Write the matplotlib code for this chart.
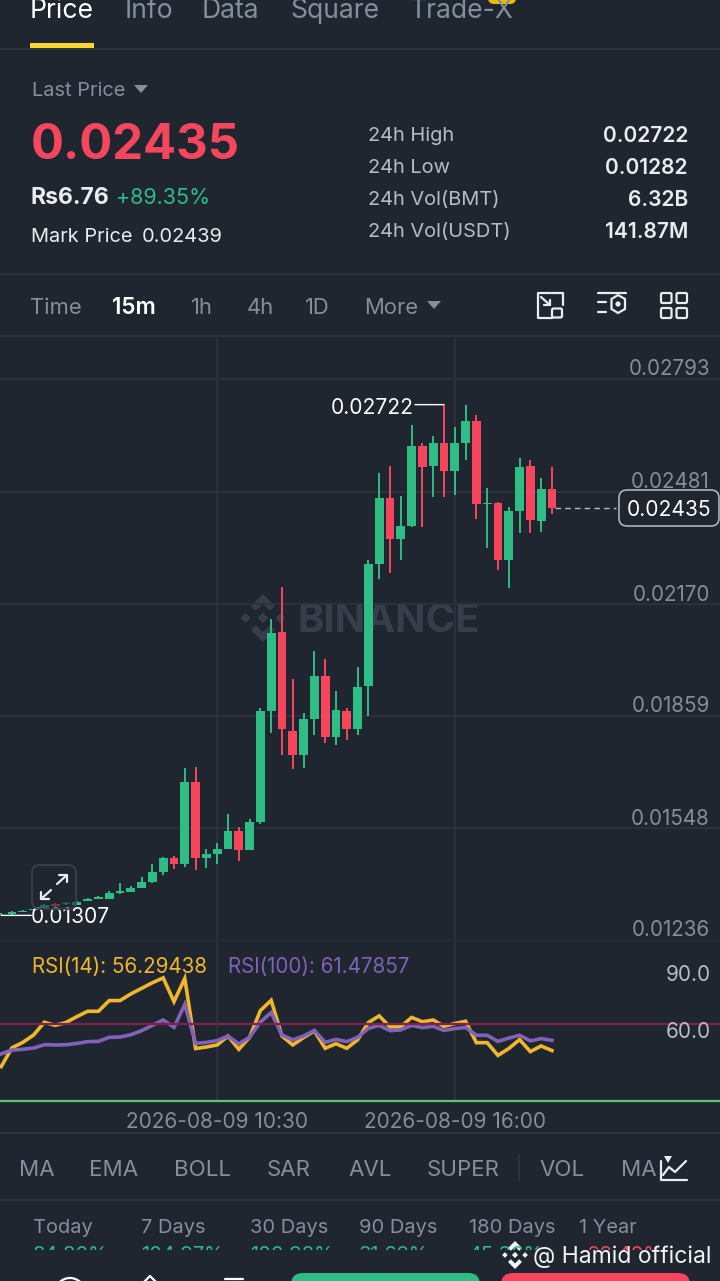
import matplotlib
matplotlib.use("Agg")
import matplotlib.pyplot as plt
from matplotlib.patches import FancyBboxPatch, Polygon, Rectangle, Circle
from matplotlib.lines import Line2D

W, H = 720, 1281
plt.rcParams['font.family'] = ['Inter', 'DejaVu Sans']

# ---- data ----
opens = [0.01310,0.01310,0.01317,0.01321,0.01328,0.01339,0.01338,0.01336,0.01347,0.01353,
         0.01353,0.01369,0.01372,0.01383,0.01400,0.01427,0.01466,0.01450,0.01677,0.01466,
         0.01477,0.01491,0.01541,0.01488,0.01566,0.01873,0.02092,0.01818,0.01751,0.01851,
         0.01970,0.01801,0.01873,0.01823,0.01943,0.02281,0.02463,0.02350,0.02386,0.02607,
         0.02552,0.02616,0.02538,0.02616,0.02677,0.02447,0.02450,0.02292,0.02427,0.02552,
         0.02400,0.02488]
highs = [0.01313,0.01318,0.01321,0.01326,0.01339,0.01342,0.01343,0.01346,0.01355,0.01360,
         0.01375,0.01397,0.01389,0.01414,0.01450,0.01468,0.01472,0.01715,0.01718,0.01491,
         0.01508,0.01588,0.01552,0.01574,0.01882,0.02128,0.02217,0.01962,0.01868,0.02040,
         0.02017,0.01929,0.01882,0.01995,0.02292,0.02533,0.02552,0.02469,0.02666,0.02616,
         0.02635,0.02722,0.02660,0.02720,0.02693,0.02491,0.02453,0.02438,0.02574,0.02569,
         0.02519,0.02549]
lows = [0.01307,0.01309,0.01316,0.01320,0.01327,0.01331,0.01336,0.01335,0.01346,0.01351,
        0.01351,0.01367,0.01371,0.01382,0.01397,0.01419,0.01436,0.01441,0.01433,0.01438,
        0.01450,0.01490,0.01458,0.01487,0.01560,0.01812,0.01751,0.01713,0.01715,0.01807,
        0.01785,0.01779,0.01793,0.01807,0.01860,0.02239,0.02256,0.02292,0.02383,0.02383,
        0.02466,0.02466,0.02472,0.02569,0.02405,0.02325,0.02264,0.02214,0.02366,0.02366,
        0.02369,0.02419]
closes = [0.01312,0.01317,0.01319,0.01325,0.01337,0.01333,0.01341,0.01344,0.01353,0.01357,
          0.01369,0.01375,0.01383,0.01400,0.01427,0.01466,0.01450,0.01677,0.01466,0.01477,
          0.01491,0.01541,0.01488,0.01566,0.01873,0.02089,0.01823,0.01751,0.01851,0.01970,
          0.01801,0.01876,0.01823,0.01940,0.02281,0.02463,0.02350,0.02386,0.02607,0.02549,
          0.02616,0.02538,0.02616,0.02677,0.02447,0.02449,0.02292,0.02427,0.02549,0.02402,
          0.02488,0.02435]
rsi14 = [43.4,50.8,52.9,55.8,60.8,59.6,60.7,63.0,65.1,65.1,69.3,69.3,71.9,74.1,76.3,78.2,
         68.9,78.0,50.5,51.1,51.9,55.4,50.2,54.9,65.4,69.4,55.4,51.9,54.8,57.4,50.6,52.4,
         50.6,53.9,60.7,63.3,59.0,59.0,62.7,61.0,61.7,59.2,60.3,61.2,52.8,52.8,47.8,50.5,
         54.0,49.3,51.5,49.7]
rsi100 = [48.4,49.9,50.2,50.7,52.0,51.9,52.0,52.5,53.2,53.3,54.9,55.0,55.9,57.5,59.6,61.7,
          58.8,67.8,52.5,52.9,53.6,55.4,52.3,54.9,60.9,64.6,55.8,53.9,55.4,57.6,52.9,54.1,
          53.2,54.9,58.4,59.6,57.5,57.8,59.6,58.7,59.2,57.6,58.3,58.8,55.7,55.7,53.3,54.6,
          55.7,53.5,54.4,53.7]
price_ticks = [0.02793,0.02481,0.02170,0.01859,0.01548,0.01236]
price_tick_labels = ['0.02793','0.02481','0.02170','0.01859','0.01548','0.01236']
time_tick_pos = [20, 42]
time_labels = ['2026-08-09 10:30','2026-08-09 16:00']
rsi_levels = [60, 30]
last_price = 0.02435
tabs = ['Price','Info','Data','Square','Trade-X']
stats = [('24h High','0.02722'),('24h Low','0.01282'),('24h Vol(BMT)','6.32B'),('24h Vol(USDT)','141.87M')]
intervals = ['Time','15m','1h','4h','1D','More']
indicators = ['MA','EMA','BOLL','SAR','AVL','SUPER','VOL','MA']
periods = ['Today','7 Days','30 Days','90 Days','180 Days','1 Year']
period_values = ['84.80%','104.97%','100.98%','31.62%','45.36%','-68.40%']

# ---- colours ----
BG='#1F2630'; GRID='#2C323E'; SEP='#2F3541'; GREEN='#2EBD85'; RED='#F6465D'
GREY='#848E9C'; LIGHT='#EAECEF'; MID='#B7BDC6'; YEL='#F0B62C'; PUR='#8262B8'

fig = plt.figure(figsize=(W/100, H/100), dpi=100, facecolor=BG)

def px_axes(top, bottom, z):
    return fig.add_axes([0, 1-bottom/H, 1, (bottom-top)/H], zorder=z)

def ui_axes(z):
    a = px_axes(0, H, z); a.set_xlim(0, W); a.set_ylim(H, 0); a.axis('off')
    a.patch.set_alpha(0)
    return a

bg = ui_axes(0); ui = ui_axes(5)

def fs(px): return px*0.72
def T(x, y, s, size=20, c=GREY, ha='left', w='normal', a=None, **k):
    return (a or ui).text(x, y+2, s, fontsize=fs(size), color=c, ha=ha, va='center', fontweight=w, **k)

# ---- price panel ----
XL = (-0.11, 66.56)
ax = px_axes(338, 941, 2)
ax.set_facecolor('none')
ax.set_xlim(*XL); ax.set_ylim(0.01236, 0.029066)
for s in ax.spines.values(): s.set_visible(False)
ax.set_yticks(price_ticks); ax.set_xticks(time_tick_pos)
ax.tick_params(left=False, bottom=False, labelleft=False, labelbottom=False)
ax.grid(True, color=GRID, lw=1.3); ax.set_axisbelow(True)
idx = list(range(len(opens)))
cols = [GREEN if c >= o else RED for o, c in zip(opens, closes)]
ax.vlines(idx, lows, highs, colors=cols, lw=1.4, zorder=3)
ax.bar(idx, [max(abs(c-o), 0.000012) for o, c in zip(opens, closes)],
       bottom=[min(o, c) for o, c in zip(opens, closes)], width=0.82, color=cols, zorder=4)
offs = [10, 10, 9, 10, 9, 11]
for v, l, o in zip(price_ticks, price_tick_labels, offs):
    ax.annotate(l, (1, v), xycoords=('axes fraction', 'data'), xytext=(-10, o), textcoords='offset pixels',
                ha='right', va='center', color=GREY, fontsize=fs(20.6))
# high / low / last markers
hi_i = highs.index(max(highs)); lo_i = lows.index(min(lows))
hi_v, lo_v = max(highs), min(lows)
ax.annotate(f'{hi_v:.5f}', (hi_i, hi_v), xytext=(-30, -3), textcoords='offset pixels',
            color='white', fontsize=fs(21), ha='right', va='center', zorder=6)
ax.annotate('', (hi_i, hi_v), xytext=(-29, 0), textcoords='offset pixels',
            arrowprops=dict(arrowstyle='-', color='white', lw=1, shrinkA=0, shrinkB=0))
ax.annotate(f'{lo_v:.5f}', (lo_i, lo_v), xytext=(30, -2), textcoords='offset pixels',
            color='white', fontsize=fs(21), ha='left', va='center', zorder=6)
ax.annotate('', (lo_i, lo_v), xytext=(30, 0), textcoords='offset pixels',
            arrowprops=dict(arrowstyle='-', color='white', lw=1, shrinkA=0, shrinkB=0))
ax.plot([idx[-1]+0.3, 56.9], [last_price]*2, color=MID, lw=1, ls=(0, (4, 3)), zorder=3)

# ---- RSI panel ----
rx = px_axes(941, 1102, 2)
rx.set_facecolor('none')
rx.set_xlim(*XL); rx.set_ylim(29.53, 92.67)
for s in rx.spines.values(): s.set_visible(False)
rx.set_yticks([]); rx.set_xticks(time_tick_pos, time_labels)
rx.tick_params(axis='x', length=0, pad=7, labelsize=fs(20.8), labelcolor=GREY)
rx.grid(True, axis='x', color=GRID, lw=1.3); rx.set_axisbelow(True)
rx.plot(idx, rsi14, color=YEL, lw=2.6, solid_joinstyle='miter', zorder=3)
rx.plot(idx, rsi100, color=PUR, lw=2.6, solid_joinstyle='miter', zorder=4)
rx.axhline(rsi_levels[0], color='#7B2250', lw=1.6, zorder=5)
rx.axhline(rsi_levels[1], color='#5CC76E', lw=1.6, zorder=5, clip_on=False)
rx.text(32/W, 1-(967-941)/161, 'RSI(14): 56.29438', transform=rx.transAxes, color=YEL, fontsize=fs(20.6), va='center')
rx.text(228/W, 1-(967-941)/161, 'RSI(100): 61.47857', transform=rx.transAxes, color=PUR, fontsize=fs(20.6), va='center')
T(711, 973, '90.0', 20.8, MID, 'right')
T(711, 1030, '60.0', 20.8, MID, 'right')

# ---- separators ----
for y in [49, 274, 336, 1133, 1200]:
    bg.plot([0, W], [y, y], color=SEP, lw=1.2)
bg.plot([519, 519], [1155, 1180], color=SEP, lw=1.2)

# ---- header ----
for s, x, c in zip(tabs, [30, 125, 202, 290, 410], ['white']+[GREY]*4):
    T(x, 9, s, 26.5, c, clip_on=False)
ui.add_patch(Rectangle((30, 43), 64, 5, color='#FCD535', lw=0))
ui.add_patch(FancyBboxPatch((488, -8), 28, 12, boxstyle='round,pad=0,rounding_size=6', color='#F0B90B', lw=0))
T(32, 89, 'Last Price', 20, GREY)
ui.add_patch(Polygon([(134, 85), (148, 85), (141, 93)], color=GREY, lw=0))
T(31, 144, '0.02435', 49, RED, w='bold')
T(31, 196, 'Rs6.76', 23, LIGHT, w='bold')
T(116, 196, '+89.35%', 21.5, GREEN)
T(31, 235, 'Mark Price', 20, LIGHT)
T(142, 235, '0.02439', 20, LIGHT)
for (k, v), y in zip(stats, [134, 166, 198, 230]):
    T(368, y, k, 20, MID)
    T(688, y, v, 21, LIGHT, 'right', 'semibold')
for s, x, c, w, z in zip(intervals, [30, 112, 191, 247, 305, 364],
                      [GREY, 'white', GREY, GREY, GREY, GREY], ['normal', 'semibold']+['normal']*4,
                      [22, 22.5, 22, 22, 22, 22]):
    T(x, 306, s, z, c, w=w)
ui.add_patch(Polygon([(427, 301), (441, 301), (434, 309)], color=GREY, lw=0))

def rbox(x, y, w, h, r=2, **k):
    k.setdefault('fc', 'none'); k.setdefault('ec', LIGHT); k.setdefault('lw', 1.6)
    p = FancyBboxPatch((x, y), w, h, boxstyle=f'round,pad=0,rounding_size={r}', **k)
    ui.add_patch(p); return p
def L(xs, ys, c=LIGHT, lw=1.6, a=None, **k):
    (a or ui).add_line(Line2D(xs, ys, color=c, lw=lw, solid_capstyle='round', **k))

# interval-bar icons
L([551, 537.5, 537.5, 552], [292.5, 292.5, 317.5, 317.5]); L([552, 562.5, 562.5], [292.5, 292.5, 305])
rbox(552, 308.5, 10, 9, 1.5)
L([541, 550], [297, 305]); L([544, 550, 550], [305, 305, 299.5])
L([598, 626], [293, 293]); L([598, 606], [302, 302]); L([598, 606], [312, 312])
ui.add_patch(Polygon([(611.5, 299), (618, 295), (625, 299), (625, 309), (618, 313), (611.5, 309)], fc='none', ec=LIGHT, lw=1.6))
ui.add_patch(Circle((618, 304), 2.6, fc=LIGHT, ec='none'))
for x in [661, 676.5]:
    for y in [293, 308]:
        rbox(x, y, 10.5, 10, 1.5)

# current price tag
ui.add_patch(FancyBboxPatch((619, 490), 100, 36, boxstyle='round,pad=0,rounding_size=8', fc=BG, ec=MID, lw=1.1))
T(669, 508, f'{last_price:.5f}', 21, 'white', 'center')

# expand button
ui.add_patch(FancyBboxPatch((32, 865), 44, 44, boxstyle='round,pad=0,rounding_size=8', fc=(0.12, 0.15, 0.19, 0.55), ec='#3A404B', lw=1.3))
L([57, 67], [884, 875]); L([59, 67, 67], [875, 875, 882])
L([41, 51], [899, 890]); L([41, 41, 49], [892, 899, 899])

# watermark
def logo(cx, cy, s, c, al, a):
    def d(x, y, r):
        a.add_patch(Polygon([(cx+x*s, cy+(y-r)*s), (cx+(x+r)*s, cy+y*s), (cx+x*s, cy+(y+r)*s), (cx+(x-r)*s, cy+y*s)], color=c, alpha=al, lw=0))
    d(0, 0, .22); d(-.72, 0, .2); d(.72, 0, .2)
    for sgn in (-1, 1):
        a.add_patch(Polygon([(cx, cy+sgn*1.0*s), (cx+.5*s, cy+sgn*.5*s), (cx+.3*s, cy+sgn*.3*s), (cx, cy+sgn*.6*s), (cx-.3*s, cy+sgn*.3*s), (cx-.5*s, cy+sgn*.5*s)], color=c, alpha=al, lw=0))
logo(263, 618, 24, '#9AA3B2', 0.2, bg)
T(297, 619, 'BINANCE', 40, '#9AA3B2', w='bold', a=bg, alpha=0.2)

# ---- indicator bar ----
for s, x in zip(indicators, [19, 89, 174, 267, 348, 427, 539, 621]):
    T(x, 1168, s, 22.3, GREY)
ui.add_patch(Rectangle((641, 1150), 8, 36, color=BG, alpha=0.55, lw=0))
ui.add_patch(Rectangle((649, 1150), 40, 36, color=BG, lw=0))
L([660.5, 660.5, 687], [1161, 1180, 1180]); L([663, 669, 675, 686], [1175, 1167, 1172, 1161])
ui.add_patch(Polygon([(664, 1156), (672, 1156), (668, 1163)], color=LIGHT, lw=0))

# ---- period row ----
pxs = [33, 141, 250, 359, 469, 579]
for s, x in zip(periods, pxs):
    T(x, 1226, s, 20, GREY)
clip = Rectangle((0, 1236), W, 14, transform=ui.transData)
for s, x in zip(period_values, pxs):
    t = T(x, 1253, s, 20, RED if s.startswith('-') else GREEN)
    t.set_clip_path(clip); t.set_clip_on(True)

# ---- bottom bar ----
ui.add_patch(FancyBboxPatch((291, 1273), 189, 30, boxstyle='round,pad=0,rounding_size=12', color=GREEN, lw=0))
ui.add_patch(FancyBboxPatch((501, 1273), 189, 30, boxstyle='round,pad=0,rounding_size=12', color=RED, lw=0))
ui.add_patch(Circle((70, 1293), 15, fc='none', ec='white', lw=1.6))
L([136, 150, 164], [1290, 1276, 1290], 'white')
L([225, 243], [1279, 1279], 'white')

# channel watermark
logo(515, 1255, 14, 'white', 0.95, ui)
T(533, 1255, '@ Hamid official', 23, '#F2F3F5')

ui.set_xlim(0, W); ui.set_ylim(H, 0)
fig.savefig('out.png', dpi=100, facecolor=BG)
